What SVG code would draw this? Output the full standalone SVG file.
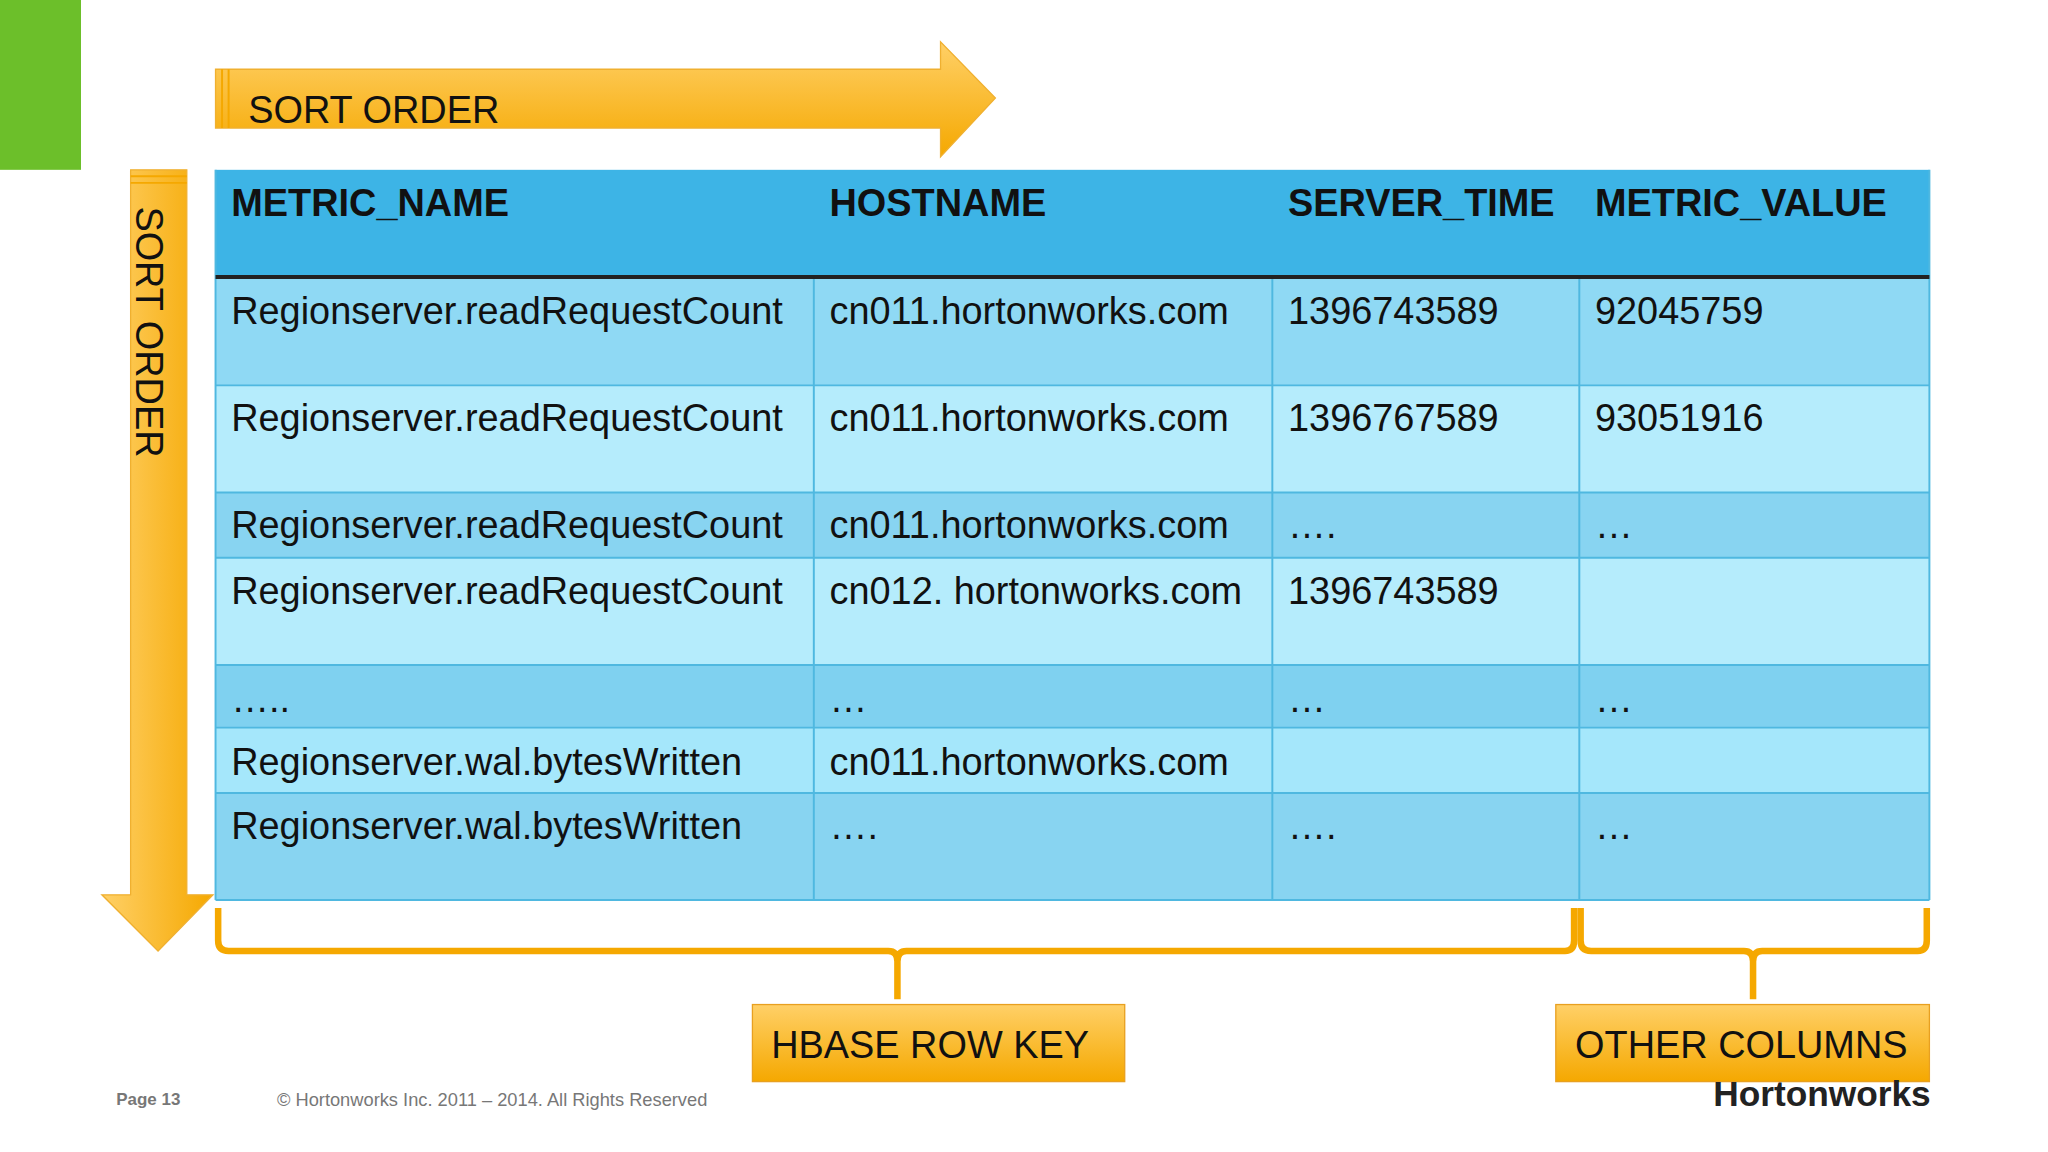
<svg xmlns="http://www.w3.org/2000/svg" width="2048" height="1152" viewBox="0 0 2048 1152">
<defs>
<linearGradient id="gh" x1="0" y1="0" x2="0" y2="1"><stop offset="0" stop-color="#ffd067"/><stop offset="1" stop-color="#f5a800"/></linearGradient>
<linearGradient id="gv" x1="0" y1="0" x2="1" y2="0"><stop offset="0" stop-color="#ffd067"/><stop offset="1" stop-color="#f5a800"/></linearGradient>
<style>
.t{font-family:"Liberation Sans",Arial,sans-serif;font-size:29px;fill:#111}
.h{font-family:"Liberation Sans",Arial,sans-serif;font-size:29px;font-weight:bold;fill:#111}
.l{stroke:#4fb8e0;stroke-width:1.5}
.b{fill:none;stroke:#f5a800;stroke-width:5}
</style>
</defs>
<rect width="2048" height="1152" fill="#fff"/>
<g transform="scale(1.3063)">
<rect x="0" y="0" width="62" height="130" fill="#6cbf2a"/>
<g id="sort-h">
<path d="M165 53H720V32L762 75L720 120V98H165Z" fill="url(#gh)" stroke="#f0b030"/>
<path d="M170 53V98M175 53V98" stroke="#f5a800" stroke-width="1.5"/>
<text class="t" x="190" y="94">SORT ORDER</text>
</g>
<g id="sort-v">
<path d="M100 130H143V685H163L121 728L78 685H100Z" fill="url(#gv)" stroke="#f0b030"/>
<path d="M100 135H143M100 140H143" stroke="#f5a800" stroke-width="1.5"/>
<text class="t" transform="translate(104,158) rotate(90)">SORT ORDER</text>
</g>
<g id="table">
<rect x="165" y="130" width="1312" height="82" fill="#3db4e6"/>
<rect x="165" y="212" width="1312" height="83" fill="#8fd9f4"/>
<rect x="165" y="295" width="1312" height="82" fill="#b5ecfc"/>
<rect x="165" y="377" width="1312" height="50" fill="#88d4f1"/>
<rect x="165" y="427" width="1312" height="82" fill="#b5ecfc"/>
<rect x="165" y="509" width="1312" height="48" fill="#7fd1f0"/>
<rect x="165" y="557" width="1312" height="50" fill="#a5e7fb"/>
<rect x="165" y="607" width="1312" height="82" fill="#88d4f1"/>
<path class="l" d="M165 295H1477M165 377H1477M165 427H1477M165 509H1477M165 557H1477M165 607H1477M623 212V689M974 212V689M1209 212V689M165 130V689M1477 130V689M165 689H1477"/>
<path d="M165 212H1477" stroke="#222" stroke-width="3"/>
<text class="h" x="177" y="165">METRIC_NAME</text>
<text class="h" x="635" y="165">HOSTNAME</text>
<text class="h" x="986" y="165">SERVER_TIME</text>
<text class="h" x="1221" y="165">METRIC_VALUE</text>
<text class="t" x="177" y="248">Regionserver.readRequestCount</text>
<text class="t" x="635" y="248">cn011.hortonworks.com</text>
<text class="t" x="986" y="248">1396743589</text>
<text class="t" x="1221" y="248">92045759</text>
<text class="t" x="177" y="330">Regionserver.readRequestCount</text>
<text class="t" x="635" y="330">cn011.hortonworks.com</text>
<text class="t" x="986" y="330">1396767589</text>
<text class="t" x="1221" y="330">93051916</text>
<text class="t" x="177" y="412">Regionserver.readRequestCount</text>
<text class="t" x="635" y="412">cn011.hortonworks.com</text>
<text class="t" x="986" y="412">….</text>
<text class="t" x="1221" y="412">…</text>
<text class="t" x="177" y="462">Regionserver.readRequestCount</text>
<text class="t" x="635" y="462">cn012. hortonworks.com</text>
<text class="t" x="986" y="462">1396743589</text>
<text class="t" x="177" y="545">…..</text>
<text class="t" x="635" y="545">…</text>
<text class="t" x="986" y="545">…</text>
<text class="t" x="1221" y="545">…</text>
<text class="t" x="177" y="593">Regionserver.wal.bytesWritten</text>
<text class="t" x="635" y="593">cn011.hortonworks.com</text>
<text class="t" x="177" y="642">Regionserver.wal.bytesWritten</text>
<text class="t" x="635" y="642">….</text>
<text class="t" x="986" y="642">….</text>
<text class="t" x="1221" y="642">…</text>
</g>
<g id="connectors">
<path class="b" d="M167 695V720Q167 728 175 728H680Q687 728 687 736V765M687 736Q687 728 694 728H1198Q1205 728 1205 720V695"/>
<path class="b" d="M1210 695V720Q1210 728 1218 728H1335Q1342 728 1342 736V765M1342 736Q1342 728 1349 728H1468Q1475 728 1475 720V695"/>
</g>
<g id="rowkey">
<rect x="576" y="769" width="285" height="59" fill="url(#gh)" stroke="#e8a020"/>
<text class="t" x="712" y="810" text-anchor="middle">HBASE ROW KEY</text>
</g>
<g id="othercols">
<rect x="1191" y="769" width="286" height="59" fill="url(#gh)" stroke="#e8a020"/>
<text class="t" x="1333" y="810" text-anchor="middle">OTHER COLUMNS</text>
</g>
<text x="89" y="846" font-family="Liberation Sans,Arial,sans-serif" font-size="13" font-weight="bold" fill="#777">Page 13</text>
<text x="212" y="847" font-family="Liberation Sans,Arial,sans-serif" font-size="14" fill="#777">© Hortonworks Inc. 2011 – 2014. All Rights Reserved</text>
<text x="1478" y="847" text-anchor="end" font-family="Liberation Sans,Arial,sans-serif" font-size="27" font-weight="bold" fill="#222">Hortonworks</text>
</g>
</svg>
